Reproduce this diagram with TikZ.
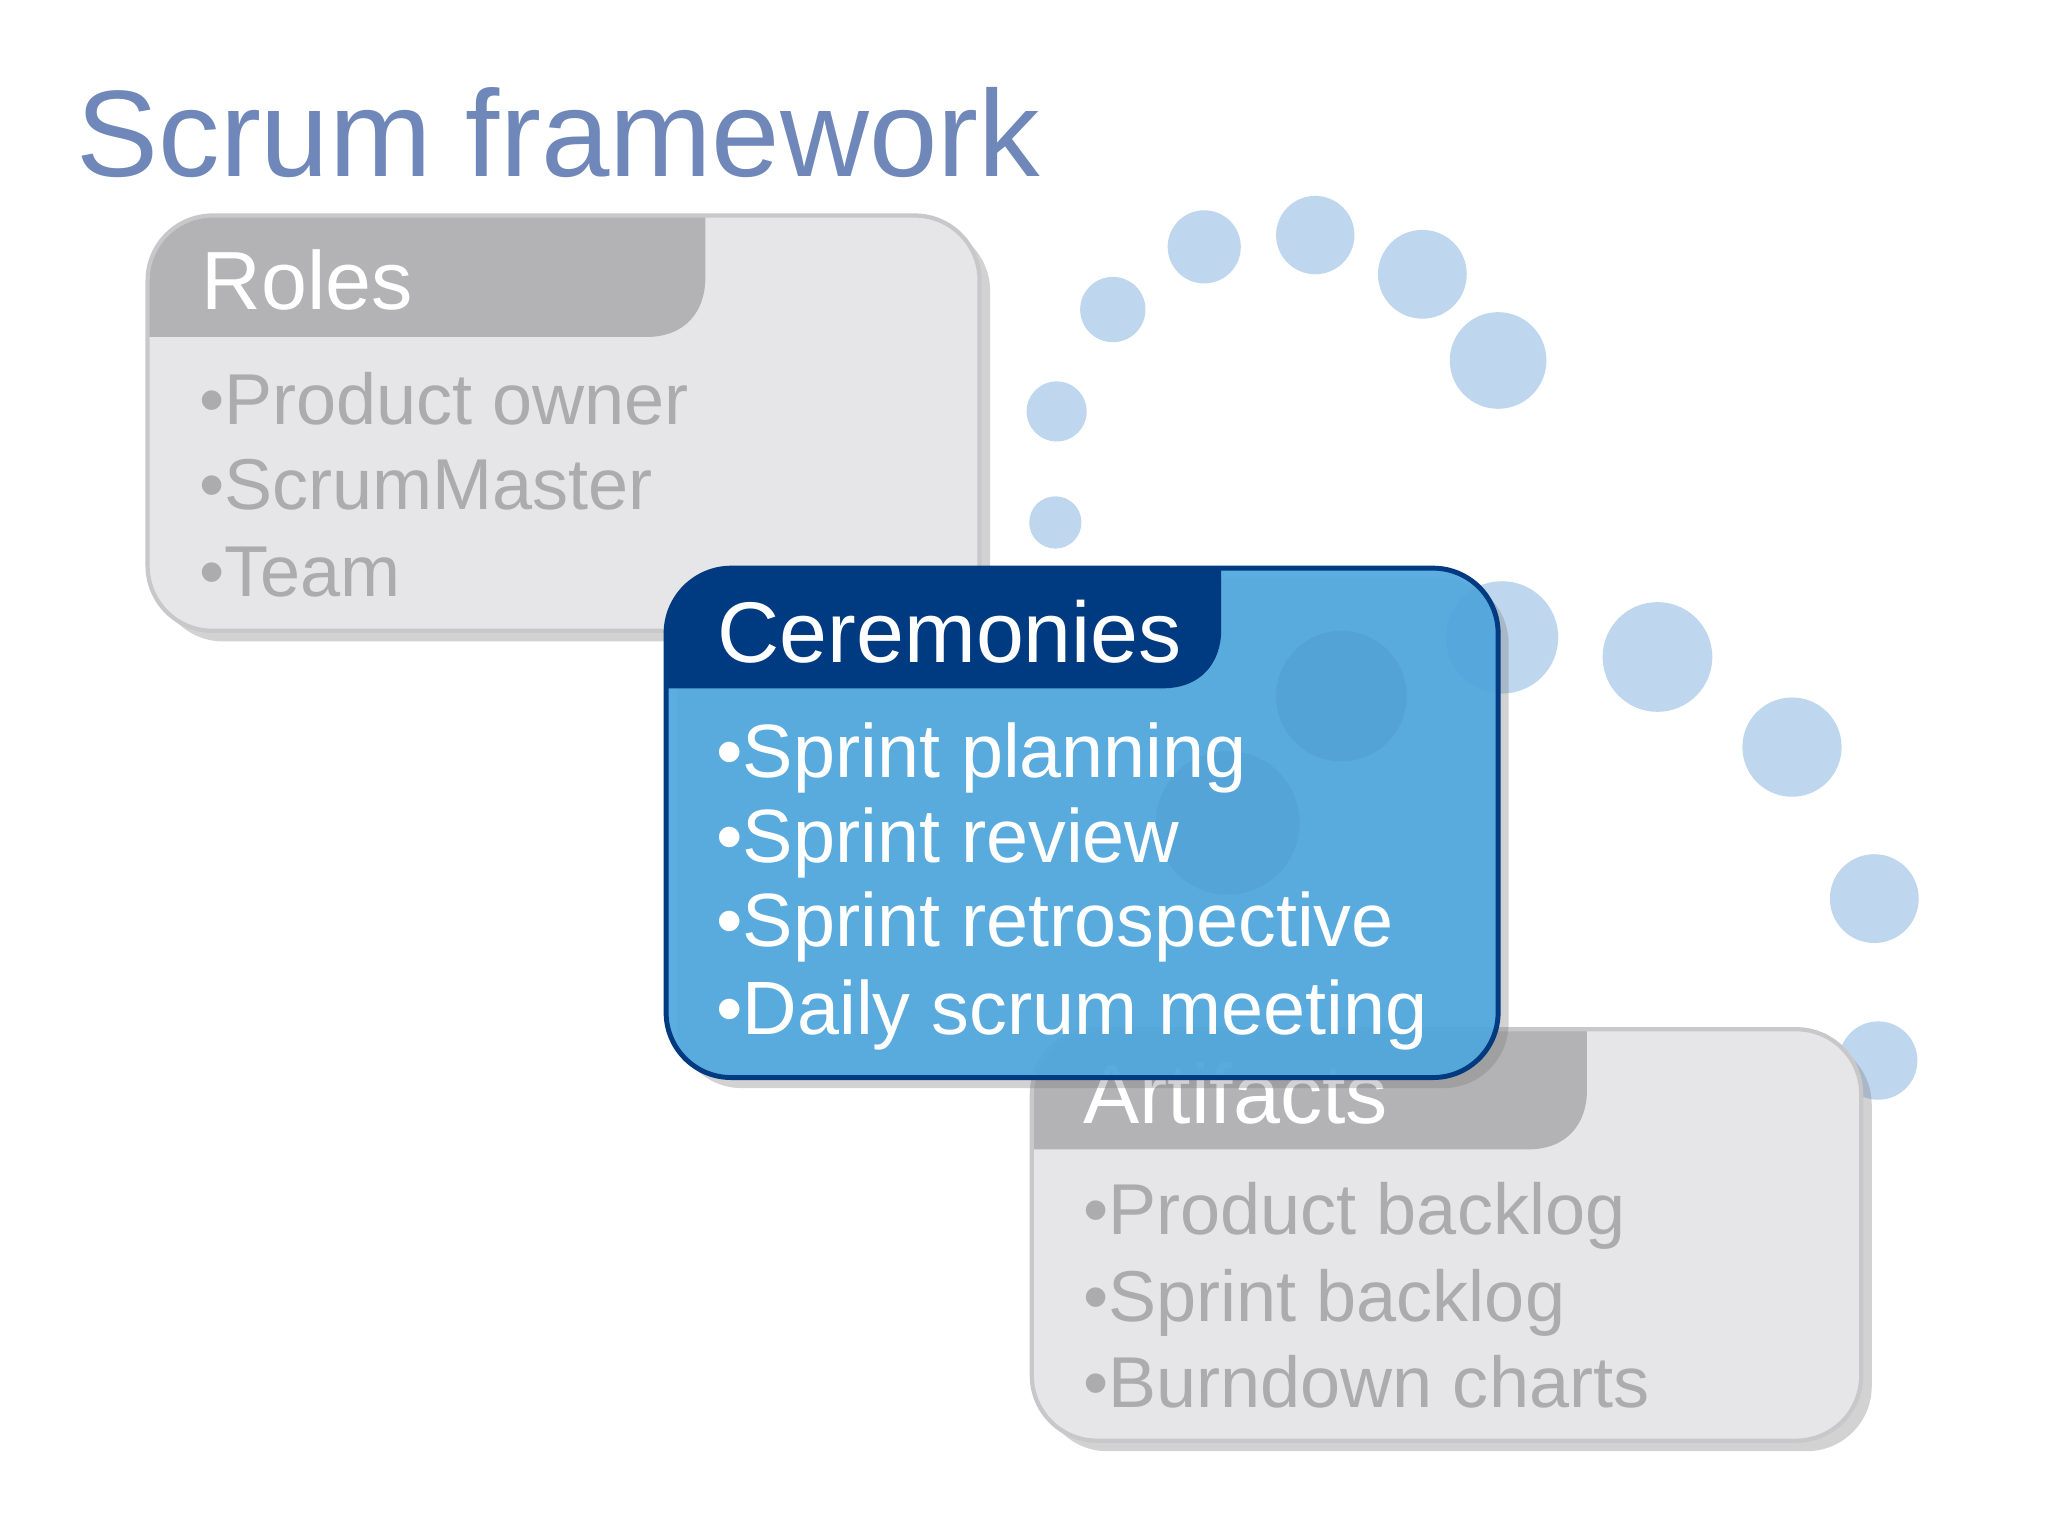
\documentclass[tikz,border=0pt]{standalone}
\usepackage{fontspec}
\setmainfont{Liberation Sans}
\usetikzlibrary{shadows}
\definecolor{titlec}{RGB}{111,135,185}
\definecolor{boxg}{RGB}{230,229,231}
\definecolor{tabg}{RGB}{179,178,180}
\definecolor{edgeg}{RGB}{200,200,202}
\definecolor{itemg}{RGB}{172,172,175}
\definecolor{dot}{RGB}{191,215,238}
\definecolor{boxb}{RGB}{80,167,222}
\definecolor{darkb}{RGB}{0,58,128}
\tikzset{
  dotc/.style={fill=dot},
  card/.style={rounded corners=0.65cm, line width=1.2pt, drop shadow={shadow xshift=3pt,shadow yshift=-3pt,opacity=0.35}},
  head/.style={anchor=base west, text=white, font=\fontsize{24}{28}\selectfont},
  item/.style={anchor=base west, font=\fontsize{20.5}{24}\selectfont},
}
\begin{document}
\begin{tikzpicture}[x=0.013061cm,y=-0.013061cm]
\useasboundingbox (0,0) rectangle (1568,1176);
\fill[white] (0,0) rectangle (1568,1176);
\node[anchor=base west, text=titlec, font=\fontsize{35}{40}\selectfont, inner sep=0] (title) at (58,135) {Scrum framework};
% dots
\foreach \x/\y/\r [count=\i] in {852/237/25, 922/189/28, 1007/180/30, 1089/210/34, 1147/276/37, 809/315/23, 808/400/20, 1150/488/43, 1269/503/42, 1372/572/38, 1435/688/34, 1438/812/30}
  \fill[dotc] (\x,\y) circle (\r);
% Roles
\fill[card, fill=boxg] (113,165) rectangle (750,483);
\begin{scope}
\clip[rounded corners=0.65cm] (113,165) rectangle (750,483);
\fill[tabg] (100,150) -- (540,150) -- (540,213) .. controls (540,238) and (525,258) .. (495,258) -- (100,258) -- cycle;
\end{scope}
\draw[rounded corners=0.65cm, line width=1.2pt, draw=edgeg] (113,165) rectangle (750,483);
\node[head, font=\fontsize{23.5}{28}\selectfont] (roles) at (145,237) {Roles};
\node[item, text=itemg] (r1) at (143,325) {\textbullet Product owner};
\node[item, text=itemg] (r2) at (143,390) {\textbullet ScrumMaster};
\node[item, text=itemg] (r3) at (143,457) {\textbullet Team};
% Artifacts
\fill[card, fill=boxg] (790,788) rectangle (1425,1103);
\begin{scope}
\clip[rounded corners=0.65cm] (790,788) rectangle (1425,1103);
\fill[tabg] (780,770) -- (1215,770) -- (1215,835) .. controls (1215,860) and (1200,880) .. (1170,880) -- (780,880) -- cycle;
\end{scope}
\draw[rounded corners=0.65cm, line width=1.2pt, draw=edgeg] (790,788) rectangle (1425,1103);
\node[head] (art) at (820,860) {Artifacts};
\node[item, text=itemg] (a1) at (820,945) {\textbullet Product backlog};
\node[item, text=itemg] (a2) at (820,1012) {\textbullet Sprint backlog};
\node[item, text=itemg] (a3) at (820,1078) {\textbullet Burndown charts};
% Ceremonies
\fill[card, fill=boxb, fill opacity=0.93] (510,435) rectangle (1147,825);
\begin{scope}
\clip[rounded corners=0.65cm] (510,435) rectangle (1147,825);
\fill[darkb, opacity=0.06] (1027,533) circle (50);
\fill[darkb, opacity=0.05] (940,630) circle (55);
\fill[darkb] (500,420) -- (935,420) -- (935,482) .. controls (935,507) and (920,527) .. (890,527) -- (500,527) -- cycle;
\end{scope}
\draw[rounded corners=0.65cm, line width=1.4pt, draw=darkb] (510,435) rectangle (1147,825);
\node[head, font=\fontsize{24.5}{28}\selectfont] (cer) at (540,507) {Ceremonies};
\node[item, text=white, font=\fontsize{21.5}{25}\selectfont] (c1) at (539,595) {\textbullet Sprint planning};
\node[item, text=white, font=\fontsize{21.5}{25}\selectfont] (c2) at (539,660) {\textbullet Sprint review};
\node[item, text=white, font=\fontsize{21.5}{25}\selectfont] (c3) at (539,725) {\textbullet Sprint retrospective};
\node[item, text=white, font=\fontsize{21.5}{25}\selectfont] (c4) at (539,792) {\textbullet Daily scrum meeting};
\end{tikzpicture}
\end{document}
